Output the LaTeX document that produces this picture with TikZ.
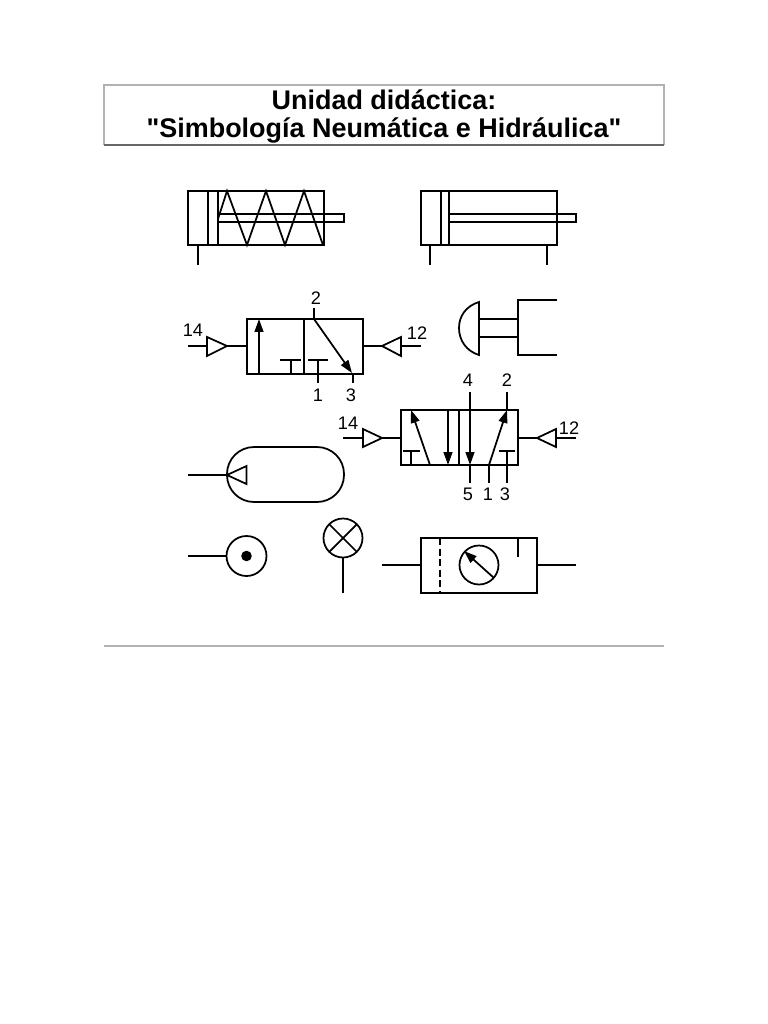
\documentclass[tikz,border=0pt]{standalone}
\usepackage{fontspec}
\setmainfont{Liberation Sans}[Ligatures=TeXOff]
\usetikzlibrary{arrows.meta}

\begin{document}
\begin{tikzpicture}[x=0.03cm, y=-0.03cm,
    symbol/.style={draw=black, line width=1.5pt},
    thinline/.style={draw=black, line width=1.25pt},
    flowarrow/.style={symbol, -{Triangle[length=11pt, width=7.5pt]}},
    port/.style={font=\fontsize{15.5}{15.5}\selectfont, inner sep=0pt},
    pilot/.style={symbol, fill=white, line join=miter}
]
\useasboundingbox (0, 0) rectangle (768, 1024);

% Title frame
\draw[draw=black!30, line width=0.9pt] (104, 145) -- (104, 85) -- (664, 85) -- (664, 145);
\draw[draw=black!60, line width=1.6pt] (104, 145) -- (664, 145);
\node[font=\bfseries\fontsize{23}{24.4}\selectfont, align=center, inner sep=0pt] (title) at (384, 116.5) {
    Unidad didáctica:\\
    "Simbología Neumática e Hidráulica"
};

% Spring cylinder
\draw[symbol] (188, 191) rectangle (324, 245);
\draw[symbol] (208, 191) -- (208, 245);
\draw[symbol] (218, 191) -- (218, 245);
\draw[symbol] (218, 214) -- (344, 214) -- (344, 222) -- (218, 222);
\draw[symbol] (218, 219) -- (227, 191) -- (247, 245) -- (266, 191) -- (285, 245) -- (304, 191) -- (323, 245);
\draw[symbol] (198, 245) -- (198, 265);

% Double acting cylinder
\draw[symbol] (421, 191) rectangle (557, 245);
\draw[symbol] (441, 191) -- (441, 245);
\draw[symbol] (449, 191) -- (449, 245);
\draw[symbol] (449, 214) -- (576, 214) -- (576, 222) -- (449, 222);
\draw[symbol] (430, 245) -- (430, 265);
\draw[thinline] (547, 245) -- (547, 265);

% 3/2 valve
\draw[symbol] (247, 319) rectangle (363, 374);
\draw[symbol] (304, 319) -- (304, 374);
\draw[flowarrow] (259, 374) -- (259, 319);
\draw[symbol] (280, 360) -- (301, 360);
\draw[symbol] (291, 360) -- (291, 374);
\draw[symbol] (308, 360) -- (328, 360);
\draw[symbol] (318, 360) -- (318, 383);
\draw[symbol] (314, 308) -- (314, 319);
\draw[flowarrow] (314, 319) -- (352, 373);
\draw[symbol] (353, 374) -- (353, 383);
\draw[symbol] (188, 346) -- (207, 346);
\draw[pilot] (207, 337) -- (227, 346) -- (207, 356) -- cycle;
\draw[symbol] (227, 346) -- (247, 346);
\draw[symbol] (363, 346) -- (382, 346);
\draw[pilot] (401, 337) -- (382, 346) -- (401, 356) -- cycle;
\draw[symbol] (401, 346) -- (421, 346);
\node[port] (v3p2) at (316, 298) {2};
\node[port] (v3p1) at (318, 395) {1};
\node[port] (v3p3) at (351, 395) {3};
\node[port] (v3p14) at (193, 330) {14};
\node[port] (v3p12) at (417, 333) {12};

% Push button
\draw[symbol] (479, 302) .. controls (466, 306) and (459, 316) .. (459, 328) .. controls (459, 340) and (466, 351) .. (479, 355) -- cycle;
\draw[symbol] (479, 319) -- (518, 319);
\draw[symbol] (479, 337) -- (518, 337);
\draw[symbol] (557, 300) -- (518, 300) -- (518, 355) -- (557, 355);

% 5/2 valve
\draw[symbol] (401, 410) rectangle (518, 465);
\draw[symbol] (459, 410) -- (459, 465);
\draw[flowarrow] (430, 465) -- (411, 410);
\draw[flowarrow] (448, 410) -- (448, 465);
\draw[flowarrow] (470, 392) -- (470, 465);
\draw[symbol] (470, 465) -- (470, 483);
\draw[flowarrow] (489, 465) -- (507, 410);
\draw[symbol] (507, 392) -- (507, 410);
\draw[symbol] (489, 465) -- (489, 483);
\draw[symbol] (403, 451) -- (420, 451);
\draw[symbol] (411, 451) -- (411, 465);
\draw[symbol] (499, 451) -- (515, 451);
\draw[symbol] (507, 451) -- (507, 483);
\draw[symbol] (343, 438) -- (363, 438);
\draw[pilot] (363, 429) -- (382, 438) -- (363, 447) -- cycle;
\draw[symbol] (382, 438) -- (401, 438);
\draw[symbol] (518, 438) -- (537, 438);
\draw[pilot] (556, 429) -- (537, 438) -- (556, 447) -- cycle;
\draw[symbol] (556, 438) -- (576, 438);
\node[port] (v5p4) at (468, 380) {4};
\node[port] (v5p2) at (507, 380) {2};
\node[port] (v5p5) at (468, 494) {5};
\node[port] (v5p1) at (488, 494) {1};
\node[port] (v5p3) at (505, 494) {3};
\node[port] (v5p14) at (348, 423) {14};
\node[port] (v5p12) at (569, 428) {12};

% Reservoir
\draw[symbol, rounded corners=0.81cm] (227, 447) rectangle (344, 502);
\draw[symbol] (188, 475) -- (227, 475);
\draw[pilot, fill=none] (246.5, 466) -- (227, 475) -- (246.5, 484) -- cycle;

% Pressure source
\draw[symbol] (246.5, 556) circle (20);
\fill (246.5, 556) circle (5.3);
\draw[symbol] (188, 556) -- (226.5, 556);

% Lamp
\draw[symbol] (343, 538) circle (19.5);
\draw[symbol] (329.2, 524.2) -- (356.8, 551.8);
\draw[symbol] (329.2, 551.8) -- (356.8, 524.2);
\draw[symbol] (343, 557.5) -- (343, 593);

% Filter with gauge
\draw[symbol] (421, 538) rectangle (537, 593);
\draw[symbol, dash pattern=on 6pt off 3pt] (440, 538) -- (440, 593);
\draw[symbol] (518, 538) -- (518, 557);
\draw[symbol] (479, 565) circle (19.5);
\draw[flowarrow] (494, 578) -- (464, 551);
\draw[symbol] (382, 565) -- (421, 565);
\draw[symbol] (537, 565) -- (576, 565);

% Bottom rule
\draw[draw=black!30, line width=0.9pt] (104, 646) -- (664, 646);

\end{tikzpicture}
\end{document}
